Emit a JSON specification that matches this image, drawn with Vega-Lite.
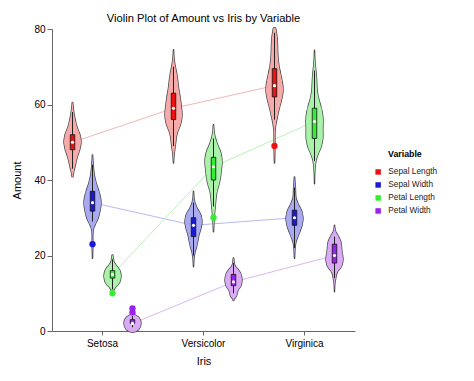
{
"$schema": "https://vega.github.io/schema/vega-lite/v6.json",
"autosize": "none",
"width": 303,
"height": 302,
"padding": {"left": 52, "top": 29, "right": 119, "bottom": 50},
"background": "white",
"title": {"text": "Violin Plot of Amount vs Iris by Variable", "fontSize": 11.2, "fontWeight": "normal", "offset": 0, "anchor": "middle", "color": "#000"},
"config": {"view": {"stroke": null}, "font": "Liberation Sans", "axis": {"grid": false}},
"datasets": {
"iris": [
{"species":"Setosa","Sepal Length":51,"Sepal Width":35,"Petal Length":14,"Petal Width":2},
{"species":"Setosa","Sepal Length":49,"Sepal Width":30,"Petal Length":14,"Petal Width":2},
{"species":"Setosa","Sepal Length":47,"Sepal Width":32,"Petal Length":13,"Petal Width":2},
{"species":"Setosa","Sepal Length":46,"Sepal Width":31,"Petal Length":15,"Petal Width":2},
{"species":"Setosa","Sepal Length":50,"Sepal Width":36,"Petal Length":14,"Petal Width":2},
{"species":"Setosa","Sepal Length":54,"Sepal Width":39,"Petal Length":17,"Petal Width":4},
{"species":"Setosa","Sepal Length":46,"Sepal Width":34,"Petal Length":14,"Petal Width":3},
{"species":"Setosa","Sepal Length":50,"Sepal Width":34,"Petal Length":15,"Petal Width":2},
{"species":"Setosa","Sepal Length":44,"Sepal Width":29,"Petal Length":14,"Petal Width":2},
{"species":"Setosa","Sepal Length":49,"Sepal Width":31,"Petal Length":15,"Petal Width":1},
{"species":"Setosa","Sepal Length":54,"Sepal Width":37,"Petal Length":15,"Petal Width":2},
{"species":"Setosa","Sepal Length":48,"Sepal Width":34,"Petal Length":16,"Petal Width":2},
{"species":"Setosa","Sepal Length":48,"Sepal Width":30,"Petal Length":14,"Petal Width":1},
{"species":"Setosa","Sepal Length":43,"Sepal Width":30,"Petal Length":11,"Petal Width":1},
{"species":"Setosa","Sepal Length":58,"Sepal Width":40,"Petal Length":12,"Petal Width":2},
{"species":"Setosa","Sepal Length":57,"Sepal Width":44,"Petal Length":15,"Petal Width":4},
{"species":"Setosa","Sepal Length":54,"Sepal Width":39,"Petal Length":13,"Petal Width":4},
{"species":"Setosa","Sepal Length":51,"Sepal Width":35,"Petal Length":14,"Petal Width":3},
{"species":"Setosa","Sepal Length":57,"Sepal Width":38,"Petal Length":17,"Petal Width":3},
{"species":"Setosa","Sepal Length":51,"Sepal Width":38,"Petal Length":15,"Petal Width":3},
{"species":"Setosa","Sepal Length":54,"Sepal Width":34,"Petal Length":17,"Petal Width":2},
{"species":"Setosa","Sepal Length":51,"Sepal Width":37,"Petal Length":15,"Petal Width":4},
{"species":"Setosa","Sepal Length":46,"Sepal Width":36,"Petal Length":10,"Petal Width":2},
{"species":"Setosa","Sepal Length":51,"Sepal Width":33,"Petal Length":17,"Petal Width":5},
{"species":"Setosa","Sepal Length":48,"Sepal Width":34,"Petal Length":19,"Petal Width":2},
{"species":"Setosa","Sepal Length":50,"Sepal Width":30,"Petal Length":16,"Petal Width":2},
{"species":"Setosa","Sepal Length":50,"Sepal Width":34,"Petal Length":16,"Petal Width":4},
{"species":"Setosa","Sepal Length":52,"Sepal Width":35,"Petal Length":15,"Petal Width":2},
{"species":"Setosa","Sepal Length":52,"Sepal Width":34,"Petal Length":14,"Petal Width":2},
{"species":"Setosa","Sepal Length":47,"Sepal Width":32,"Petal Length":16,"Petal Width":2},
{"species":"Setosa","Sepal Length":48,"Sepal Width":31,"Petal Length":16,"Petal Width":2},
{"species":"Setosa","Sepal Length":54,"Sepal Width":34,"Petal Length":15,"Petal Width":4},
{"species":"Setosa","Sepal Length":52,"Sepal Width":41,"Petal Length":15,"Petal Width":1},
{"species":"Setosa","Sepal Length":55,"Sepal Width":42,"Petal Length":14,"Petal Width":2},
{"species":"Setosa","Sepal Length":49,"Sepal Width":31,"Petal Length":15,"Petal Width":2},
{"species":"Setosa","Sepal Length":50,"Sepal Width":32,"Petal Length":12,"Petal Width":2},
{"species":"Setosa","Sepal Length":55,"Sepal Width":35,"Petal Length":13,"Petal Width":2},
{"species":"Setosa","Sepal Length":49,"Sepal Width":36,"Petal Length":14,"Petal Width":1},
{"species":"Setosa","Sepal Length":44,"Sepal Width":30,"Petal Length":13,"Petal Width":2},
{"species":"Setosa","Sepal Length":51,"Sepal Width":34,"Petal Length":15,"Petal Width":2},
{"species":"Setosa","Sepal Length":50,"Sepal Width":35,"Petal Length":13,"Petal Width":3},
{"species":"Setosa","Sepal Length":45,"Sepal Width":23,"Petal Length":13,"Petal Width":3},
{"species":"Setosa","Sepal Length":44,"Sepal Width":32,"Petal Length":13,"Petal Width":2},
{"species":"Setosa","Sepal Length":50,"Sepal Width":35,"Petal Length":16,"Petal Width":6},
{"species":"Setosa","Sepal Length":51,"Sepal Width":38,"Petal Length":19,"Petal Width":4},
{"species":"Setosa","Sepal Length":48,"Sepal Width":30,"Petal Length":14,"Petal Width":3},
{"species":"Setosa","Sepal Length":51,"Sepal Width":38,"Petal Length":16,"Petal Width":2},
{"species":"Setosa","Sepal Length":46,"Sepal Width":32,"Petal Length":14,"Petal Width":2},
{"species":"Setosa","Sepal Length":53,"Sepal Width":37,"Petal Length":15,"Petal Width":2},
{"species":"Setosa","Sepal Length":50,"Sepal Width":33,"Petal Length":14,"Petal Width":2},
{"species":"Versicolor","Sepal Length":70,"Sepal Width":32,"Petal Length":47,"Petal Width":14},
{"species":"Versicolor","Sepal Length":64,"Sepal Width":32,"Petal Length":45,"Petal Width":15},
{"species":"Versicolor","Sepal Length":69,"Sepal Width":31,"Petal Length":49,"Petal Width":15},
{"species":"Versicolor","Sepal Length":55,"Sepal Width":23,"Petal Length":40,"Petal Width":13},
{"species":"Versicolor","Sepal Length":65,"Sepal Width":28,"Petal Length":46,"Petal Width":15},
{"species":"Versicolor","Sepal Length":57,"Sepal Width":28,"Petal Length":45,"Petal Width":13},
{"species":"Versicolor","Sepal Length":63,"Sepal Width":33,"Petal Length":47,"Petal Width":16},
{"species":"Versicolor","Sepal Length":49,"Sepal Width":24,"Petal Length":33,"Petal Width":10},
{"species":"Versicolor","Sepal Length":66,"Sepal Width":29,"Petal Length":46,"Petal Width":13},
{"species":"Versicolor","Sepal Length":52,"Sepal Width":27,"Petal Length":39,"Petal Width":14},
{"species":"Versicolor","Sepal Length":50,"Sepal Width":20,"Petal Length":35,"Petal Width":10},
{"species":"Versicolor","Sepal Length":59,"Sepal Width":30,"Petal Length":42,"Petal Width":15},
{"species":"Versicolor","Sepal Length":60,"Sepal Width":22,"Petal Length":40,"Petal Width":10},
{"species":"Versicolor","Sepal Length":61,"Sepal Width":29,"Petal Length":47,"Petal Width":14},
{"species":"Versicolor","Sepal Length":56,"Sepal Width":29,"Petal Length":36,"Petal Width":13},
{"species":"Versicolor","Sepal Length":67,"Sepal Width":31,"Petal Length":44,"Petal Width":14},
{"species":"Versicolor","Sepal Length":56,"Sepal Width":30,"Petal Length":45,"Petal Width":15},
{"species":"Versicolor","Sepal Length":58,"Sepal Width":27,"Petal Length":41,"Petal Width":10},
{"species":"Versicolor","Sepal Length":62,"Sepal Width":22,"Petal Length":45,"Petal Width":15},
{"species":"Versicolor","Sepal Length":56,"Sepal Width":25,"Petal Length":39,"Petal Width":11},
{"species":"Versicolor","Sepal Length":59,"Sepal Width":32,"Petal Length":48,"Petal Width":18},
{"species":"Versicolor","Sepal Length":61,"Sepal Width":28,"Petal Length":40,"Petal Width":13},
{"species":"Versicolor","Sepal Length":63,"Sepal Width":25,"Petal Length":49,"Petal Width":15},
{"species":"Versicolor","Sepal Length":61,"Sepal Width":28,"Petal Length":47,"Petal Width":12},
{"species":"Versicolor","Sepal Length":64,"Sepal Width":29,"Petal Length":43,"Petal Width":13},
{"species":"Versicolor","Sepal Length":66,"Sepal Width":30,"Petal Length":44,"Petal Width":14},
{"species":"Versicolor","Sepal Length":68,"Sepal Width":28,"Petal Length":48,"Petal Width":14},
{"species":"Versicolor","Sepal Length":67,"Sepal Width":30,"Petal Length":50,"Petal Width":17},
{"species":"Versicolor","Sepal Length":60,"Sepal Width":29,"Petal Length":45,"Petal Width":15},
{"species":"Versicolor","Sepal Length":57,"Sepal Width":26,"Petal Length":35,"Petal Width":10},
{"species":"Versicolor","Sepal Length":55,"Sepal Width":24,"Petal Length":38,"Petal Width":11},
{"species":"Versicolor","Sepal Length":55,"Sepal Width":24,"Petal Length":37,"Petal Width":10},
{"species":"Versicolor","Sepal Length":58,"Sepal Width":27,"Petal Length":39,"Petal Width":12},
{"species":"Versicolor","Sepal Length":60,"Sepal Width":27,"Petal Length":51,"Petal Width":16},
{"species":"Versicolor","Sepal Length":54,"Sepal Width":30,"Petal Length":45,"Petal Width":15},
{"species":"Versicolor","Sepal Length":60,"Sepal Width":34,"Petal Length":45,"Petal Width":16},
{"species":"Versicolor","Sepal Length":67,"Sepal Width":31,"Petal Length":47,"Petal Width":15},
{"species":"Versicolor","Sepal Length":63,"Sepal Width":23,"Petal Length":44,"Petal Width":13},
{"species":"Versicolor","Sepal Length":56,"Sepal Width":30,"Petal Length":41,"Petal Width":13},
{"species":"Versicolor","Sepal Length":55,"Sepal Width":25,"Petal Length":40,"Petal Width":13},
{"species":"Versicolor","Sepal Length":55,"Sepal Width":26,"Petal Length":44,"Petal Width":12},
{"species":"Versicolor","Sepal Length":61,"Sepal Width":30,"Petal Length":46,"Petal Width":14},
{"species":"Versicolor","Sepal Length":58,"Sepal Width":26,"Petal Length":40,"Petal Width":12},
{"species":"Versicolor","Sepal Length":50,"Sepal Width":23,"Petal Length":33,"Petal Width":10},
{"species":"Versicolor","Sepal Length":56,"Sepal Width":27,"Petal Length":42,"Petal Width":13},
{"species":"Versicolor","Sepal Length":57,"Sepal Width":30,"Petal Length":42,"Petal Width":12},
{"species":"Versicolor","Sepal Length":57,"Sepal Width":29,"Petal Length":42,"Petal Width":13},
{"species":"Versicolor","Sepal Length":62,"Sepal Width":29,"Petal Length":43,"Petal Width":13},
{"species":"Versicolor","Sepal Length":51,"Sepal Width":25,"Petal Length":30,"Petal Width":11},
{"species":"Versicolor","Sepal Length":57,"Sepal Width":28,"Petal Length":41,"Petal Width":13},
{"species":"Virginica","Sepal Length":63,"Sepal Width":33,"Petal Length":60,"Petal Width":25},
{"species":"Virginica","Sepal Length":58,"Sepal Width":27,"Petal Length":51,"Petal Width":19},
{"species":"Virginica","Sepal Length":71,"Sepal Width":30,"Petal Length":59,"Petal Width":21},
{"species":"Virginica","Sepal Length":63,"Sepal Width":29,"Petal Length":56,"Petal Width":18},
{"species":"Virginica","Sepal Length":65,"Sepal Width":30,"Petal Length":58,"Petal Width":22},
{"species":"Virginica","Sepal Length":76,"Sepal Width":30,"Petal Length":66,"Petal Width":21},
{"species":"Virginica","Sepal Length":49,"Sepal Width":25,"Petal Length":45,"Petal Width":17},
{"species":"Virginica","Sepal Length":73,"Sepal Width":29,"Petal Length":63,"Petal Width":18},
{"species":"Virginica","Sepal Length":67,"Sepal Width":25,"Petal Length":58,"Petal Width":18},
{"species":"Virginica","Sepal Length":72,"Sepal Width":36,"Petal Length":61,"Petal Width":25},
{"species":"Virginica","Sepal Length":65,"Sepal Width":32,"Petal Length":51,"Petal Width":20},
{"species":"Virginica","Sepal Length":64,"Sepal Width":27,"Petal Length":53,"Petal Width":19},
{"species":"Virginica","Sepal Length":68,"Sepal Width":30,"Petal Length":55,"Petal Width":21},
{"species":"Virginica","Sepal Length":57,"Sepal Width":25,"Petal Length":50,"Petal Width":20},
{"species":"Virginica","Sepal Length":58,"Sepal Width":28,"Petal Length":51,"Petal Width":24},
{"species":"Virginica","Sepal Length":64,"Sepal Width":32,"Petal Length":53,"Petal Width":23},
{"species":"Virginica","Sepal Length":65,"Sepal Width":30,"Petal Length":55,"Petal Width":18},
{"species":"Virginica","Sepal Length":77,"Sepal Width":38,"Petal Length":67,"Petal Width":22},
{"species":"Virginica","Sepal Length":77,"Sepal Width":26,"Petal Length":69,"Petal Width":23},
{"species":"Virginica","Sepal Length":60,"Sepal Width":22,"Petal Length":50,"Petal Width":15},
{"species":"Virginica","Sepal Length":69,"Sepal Width":32,"Petal Length":57,"Petal Width":23},
{"species":"Virginica","Sepal Length":56,"Sepal Width":28,"Petal Length":49,"Petal Width":20},
{"species":"Virginica","Sepal Length":77,"Sepal Width":28,"Petal Length":67,"Petal Width":20},
{"species":"Virginica","Sepal Length":63,"Sepal Width":27,"Petal Length":49,"Petal Width":18},
{"species":"Virginica","Sepal Length":67,"Sepal Width":33,"Petal Length":57,"Petal Width":21},
{"species":"Virginica","Sepal Length":72,"Sepal Width":32,"Petal Length":60,"Petal Width":18},
{"species":"Virginica","Sepal Length":62,"Sepal Width":28,"Petal Length":48,"Petal Width":18},
{"species":"Virginica","Sepal Length":61,"Sepal Width":30,"Petal Length":49,"Petal Width":18},
{"species":"Virginica","Sepal Length":64,"Sepal Width":28,"Petal Length":56,"Petal Width":21},
{"species":"Virginica","Sepal Length":72,"Sepal Width":30,"Petal Length":58,"Petal Width":16},
{"species":"Virginica","Sepal Length":74,"Sepal Width":28,"Petal Length":61,"Petal Width":19},
{"species":"Virginica","Sepal Length":79,"Sepal Width":38,"Petal Length":64,"Petal Width":20},
{"species":"Virginica","Sepal Length":64,"Sepal Width":28,"Petal Length":56,"Petal Width":22},
{"species":"Virginica","Sepal Length":63,"Sepal Width":28,"Petal Length":51,"Petal Width":15},
{"species":"Virginica","Sepal Length":61,"Sepal Width":26,"Petal Length":56,"Petal Width":14},
{"species":"Virginica","Sepal Length":77,"Sepal Width":30,"Petal Length":61,"Petal Width":23},
{"species":"Virginica","Sepal Length":63,"Sepal Width":34,"Petal Length":56,"Petal Width":24},
{"species":"Virginica","Sepal Length":64,"Sepal Width":31,"Petal Length":55,"Petal Width":18},
{"species":"Virginica","Sepal Length":60,"Sepal Width":30,"Petal Length":48,"Petal Width":18},
{"species":"Virginica","Sepal Length":69,"Sepal Width":31,"Petal Length":54,"Petal Width":21},
{"species":"Virginica","Sepal Length":67,"Sepal Width":31,"Petal Length":56,"Petal Width":24},
{"species":"Virginica","Sepal Length":69,"Sepal Width":31,"Petal Length":51,"Petal Width":23},
{"species":"Virginica","Sepal Length":58,"Sepal Width":27,"Petal Length":51,"Petal Width":19},
{"species":"Virginica","Sepal Length":68,"Sepal Width":32,"Petal Length":59,"Petal Width":23},
{"species":"Virginica","Sepal Length":67,"Sepal Width":33,"Petal Length":57,"Petal Width":25},
{"species":"Virginica","Sepal Length":67,"Sepal Width":30,"Petal Length":52,"Petal Width":23},
{"species":"Virginica","Sepal Length":63,"Sepal Width":25,"Petal Length":50,"Petal Width":19},
{"species":"Virginica","Sepal Length":65,"Sepal Width":30,"Petal Length":52,"Petal Width":20},
{"species":"Virginica","Sepal Length":62,"Sepal Width":34,"Petal Length":54,"Petal Width":23},
{"species":"Virginica","Sepal Length":59,"Sepal Width":30,"Petal Length":51,"Petal Width":18}
],
"box": [
{"species":"Setosa","variable":"Sepal Length","lo":43,"q1":48,"median":50,"q3":52,"hi":58},
{"species":"Setosa","variable":"Sepal Width","lo":29,"q1":31.75,"median":34,"q3":37,"hi":44},
{"species":"Setosa","variable":"Petal Length","lo":11,"q1":14,"median":15,"q3":16,"hi":19},
{"species":"Setosa","variable":"Petal Width","lo":1,"q1":2,"median":2,"q3":3,"hi":4},
{"species":"Versicolor","variable":"Sepal Length","lo":49,"q1":56,"median":59,"q3":63,"hi":70},
{"species":"Versicolor","variable":"Sepal Width","lo":20,"q1":25,"median":28,"q3":30,"hi":34},
{"species":"Versicolor","variable":"Petal Length","lo":33,"q1":40,"median":43.5,"q3":46,"hi":51},
{"species":"Versicolor","variable":"Petal Width","lo":10,"q1":12,"median":13,"q3":15,"hi":18},
{"species":"Virginica","variable":"Sepal Length","lo":56,"q1":62,"median":65,"q3":69.5,"hi":79},
{"species":"Virginica","variable":"Sepal Width","lo":22,"q1":28,"median":30,"q3":32,"hi":38},
{"species":"Virginica","variable":"Petal Length","lo":45,"q1":51,"median":55.5,"q3":59,"hi":69},
{"species":"Virginica","variable":"Petal Width","lo":14,"q1":18,"median":20,"q3":23,"hi":25}
],
"out": [
{"species":"Setosa","variable":"Sepal Width","value":23},
{"species":"Setosa","variable":"Petal Length","value":10},
{"species":"Setosa","variable":"Petal Width","value":5},
{"species":"Setosa","variable":"Petal Width","value":6},
{"species":"Versicolor","variable":"Petal Length","value":30},
{"species":"Virginica","variable":"Sepal Length","value":49}
]
},
"encoding": {
"x": {"field": "species", "type": "nominal", "title": "Iris", "scale": {"domain": ["Setosa","Versicolor","Virginica"], "paddingInner": 0, "paddingOuter": 0}, "axis": {"labelAngle": 0, "tickSize": 4, "domainColor": "#666", "tickColor": "#666", "labelFontSize": 10, "labelColor": "#000", "labelPadding": 3, "titleFontSize": 11, "titleFontWeight": "normal", "titleColor": "#000", "titlePadding": 7}},
"xOffset": {"field": "variable", "type": "nominal", "scale": {"domain": ["Sepal Length","Sepal Width","Petal Length","Petal Width"], "paddingInner": 0, "paddingOuter": 0.525}},
"y": {"field": "value", "type": "quantitative", "title": "Amount", "scale": {"domain": [0, 80], "nice": false}, "axis": {"values": [0,20,40,60,80], "tickSize": 5, "domainColor": "#666", "tickColor": "#666", "labelFontSize": 10, "labelColor": "#000", "labelPadding": 2, "titleFontSize": 11, "titleFontWeight": "normal", "titleColor": "#000", "titlePadding": 11}}
},
"layer": [
{"data": {"name": "box"}, "mark": {"type": "line", "strokeWidth": 1}, "encoding": {"y": {"field": "median", "type": "quantitative", "title": "Amount"}, "color": {"field": "variable", "type": "nominal", "scale": {"domain": ["Sepal Length","Sepal Width","Petal Length","Petal Width"], "range": ["#f5b5b5","#b8b8f2","#b8f2b8","#dbb8f2"]}, "legend": null}}},
{"data": {"name": "iris"}, "transform": [{"fold": ["Sepal Length","Sepal Width","Petal Length","Petal Width"], "as": ["variable","value"]}, {"filter": "datum.species === 'Setosa' && datum.variable === 'Sepal Length'"}, {"density": "value", "groupby": ["species","variable"], "bandwidth": 1.8, "extent": [41, 60.5], "steps": 100}],
 "encoding": {"order": {"field": "value", "type": "quantitative"}},
 "layer": [
  {"mark": {"type": "trail", "color": "#404040"}, "encoding": {"size": {"field": "density", "type": "quantitative", "scale": {"zero": true, "range": [1.4, 18.4]}, "legend": null}}},
  {"mark": {"type": "trail"}, "encoding": {"size": {"field": "density", "type": "quantitative", "scale": {"zero": true, "range": [0, 17]}, "legend": null}, "color": {"field": "variable", "type": "nominal", "scale": {"domain": ["Sepal Length","Sepal Width","Petal Length","Petal Width"], "range": ["#f7aaaa","#aaaaf2","#aaf2aa","#dbaaf5"]}, "legend": null}}}
 ], "resolve": {"scale": {"size": "independent"}}},
{"data": {"name": "iris"}, "transform": [{"fold": ["Sepal Length","Sepal Width","Petal Length","Petal Width"], "as": ["variable","value"]}, {"filter": "datum.species === 'Setosa' && datum.variable === 'Sepal Width'"}, {"density": "value", "groupby": ["species","variable"], "bandwidth": 1.8, "extent": [19.3, 46.6], "steps": 100}],
 "encoding": {"order": {"field": "value", "type": "quantitative"}},
 "layer": [
  {"mark": {"type": "trail", "color": "#404040"}, "encoding": {"size": {"field": "density", "type": "quantitative", "scale": {"zero": true, "range": [1.4, 18.4]}, "legend": null}}},
  {"mark": {"type": "trail"}, "encoding": {"size": {"field": "density", "type": "quantitative", "scale": {"zero": true, "range": [0, 17]}, "legend": null}, "color": {"field": "variable", "type": "nominal", "scale": {"domain": ["Sepal Length","Sepal Width","Petal Length","Petal Width"], "range": ["#f7aaaa","#aaaaf2","#aaf2aa","#dbaaf5"]}, "legend": null}}}
 ], "resolve": {"scale": {"size": "independent"}}},
{"data": {"name": "iris"}, "transform": [{"fold": ["Sepal Length","Sepal Width","Petal Length","Petal Width"], "as": ["variable","value"]}, {"filter": "datum.species === 'Setosa' && datum.variable === 'Petal Length'"}, {"density": "value", "groupby": ["species","variable"], "bandwidth": 1.2, "extent": [10, 20], "steps": 100}],
 "encoding": {"order": {"field": "value", "type": "quantitative"}},
 "layer": [
  {"mark": {"type": "trail", "color": "#404040"}, "encoding": {"size": {"field": "density", "type": "quantitative", "scale": {"zero": true, "range": [1.4, 18.4]}, "legend": null}}},
  {"mark": {"type": "trail"}, "encoding": {"size": {"field": "density", "type": "quantitative", "scale": {"zero": true, "range": [0, 17]}, "legend": null}, "color": {"field": "variable", "type": "nominal", "scale": {"domain": ["Sepal Length","Sepal Width","Petal Length","Petal Width"], "range": ["#f7aaaa","#aaaaf2","#aaf2aa","#dbaaf5"]}, "legend": null}}}
 ], "resolve": {"scale": {"size": "independent"}}},
{"data": {"name": "iris"}, "transform": [{"fold": ["Sepal Length","Sepal Width","Petal Length","Petal Width"], "as": ["variable","value"]}, {"filter": "datum.species === 'Setosa' && datum.variable === 'Petal Width'"}, {"density": "value", "groupby": ["species","variable"], "bandwidth": 0.5, "extent": [1.0, 4.2], "steps": 100}],
 "encoding": {"order": {"field": "value", "type": "quantitative"}},
 "layer": [
  {"mark": {"type": "trail", "color": "#404040"}, "encoding": {"size": {"field": "density", "type": "quantitative", "scale": {"zero": true, "range": [1.4, 18.4]}, "legend": null}}},
  {"mark": {"type": "trail"}, "encoding": {"size": {"field": "density", "type": "quantitative", "scale": {"zero": true, "range": [0, 17]}, "legend": null}, "color": {"field": "variable", "type": "nominal", "scale": {"domain": ["Sepal Length","Sepal Width","Petal Length","Petal Width"], "range": ["#f7aaaa","#aaaaf2","#aaf2aa","#dbaaf5"]}, "legend": null}}}
 ], "resolve": {"scale": {"size": "independent"}}},
{"data": {"name": "iris"}, "transform": [{"fold": ["Sepal Length","Sepal Width","Petal Length","Petal Width"], "as": ["variable","value"]}, {"filter": "datum.species === 'Versicolor' && datum.variable === 'Sepal Length'"}, {"density": "value", "groupby": ["species","variable"], "bandwidth": 2.2, "extent": [44.5, 74.5], "steps": 100}],
 "encoding": {"order": {"field": "value", "type": "quantitative"}},
 "layer": [
  {"mark": {"type": "trail", "color": "#404040"}, "encoding": {"size": {"field": "density", "type": "quantitative", "scale": {"zero": true, "range": [1.4, 18.4]}, "legend": null}}},
  {"mark": {"type": "trail"}, "encoding": {"size": {"field": "density", "type": "quantitative", "scale": {"zero": true, "range": [0, 17]}, "legend": null}, "color": {"field": "variable", "type": "nominal", "scale": {"domain": ["Sepal Length","Sepal Width","Petal Length","Petal Width"], "range": ["#f7aaaa","#aaaaf2","#aaf2aa","#dbaaf5"]}, "legend": null}}}
 ], "resolve": {"scale": {"size": "independent"}}},
{"data": {"name": "iris"}, "transform": [{"fold": ["Sepal Length","Sepal Width","Petal Length","Petal Width"], "as": ["variable","value"]}, {"filter": "datum.species === 'Versicolor' && datum.variable === 'Sepal Width'"}, {"density": "value", "groupby": ["species","variable"], "bandwidth": 1.5, "extent": [17, 37], "steps": 100}],
 "encoding": {"order": {"field": "value", "type": "quantitative"}},
 "layer": [
  {"mark": {"type": "trail", "color": "#404040"}, "encoding": {"size": {"field": "density", "type": "quantitative", "scale": {"zero": true, "range": [1.4, 18.4]}, "legend": null}}},
  {"mark": {"type": "trail"}, "encoding": {"size": {"field": "density", "type": "quantitative", "scale": {"zero": true, "range": [0, 17]}, "legend": null}, "color": {"field": "variable", "type": "nominal", "scale": {"domain": ["Sepal Length","Sepal Width","Petal Length","Petal Width"], "range": ["#f7aaaa","#aaaaf2","#aaf2aa","#dbaaf5"]}, "legend": null}}}
 ], "resolve": {"scale": {"size": "independent"}}},
{"data": {"name": "iris"}, "transform": [{"fold": ["Sepal Length","Sepal Width","Petal Length","Petal Width"], "as": ["variable","value"]}, {"filter": "datum.species === 'Versicolor' && datum.variable === 'Petal Length'"}, {"density": "value", "groupby": ["species","variable"], "bandwidth": 2.0, "extent": [26.3, 54.6], "steps": 100}],
 "encoding": {"order": {"field": "value", "type": "quantitative"}},
 "layer": [
  {"mark": {"type": "trail", "color": "#404040"}, "encoding": {"size": {"field": "density", "type": "quantitative", "scale": {"zero": true, "range": [1.4, 18.4]}, "legend": null}}},
  {"mark": {"type": "trail"}, "encoding": {"size": {"field": "density", "type": "quantitative", "scale": {"zero": true, "range": [0, 17]}, "legend": null}, "color": {"field": "variable", "type": "nominal", "scale": {"domain": ["Sepal Length","Sepal Width","Petal Length","Petal Width"], "range": ["#f7aaaa","#aaaaf2","#aaf2aa","#dbaaf5"]}, "legend": null}}}
 ], "resolve": {"scale": {"size": "independent"}}},
{"data": {"name": "iris"}, "transform": [{"fold": ["Sepal Length","Sepal Width","Petal Length","Petal Width"], "as": ["variable","value"]}, {"filter": "datum.species === 'Versicolor' && datum.variable === 'Petal Width'"}, {"density": "value", "groupby": ["species","variable"], "bandwidth": 1.0, "extent": [8.2, 19.3], "steps": 100}],
 "encoding": {"order": {"field": "value", "type": "quantitative"}},
 "layer": [
  {"mark": {"type": "trail", "color": "#404040"}, "encoding": {"size": {"field": "density", "type": "quantitative", "scale": {"zero": true, "range": [1.4, 18.4]}, "legend": null}}},
  {"mark": {"type": "trail"}, "encoding": {"size": {"field": "density", "type": "quantitative", "scale": {"zero": true, "range": [0, 17]}, "legend": null}, "color": {"field": "variable", "type": "nominal", "scale": {"domain": ["Sepal Length","Sepal Width","Petal Length","Petal Width"], "range": ["#f7aaaa","#aaaaf2","#aaf2aa","#dbaaf5"]}, "legend": null}}}
 ], "resolve": {"scale": {"size": "independent"}}},
{"data": {"name": "iris"}, "transform": [{"fold": ["Sepal Length","Sepal Width","Petal Length","Petal Width"], "as": ["variable","value"]}, {"filter": "datum.species === 'Virginica' && datum.variable === 'Sepal Length'"}, {"density": "value", "groupby": ["species","variable"], "bandwidth": 2.4, "extent": [44.5, 80], "steps": 100}],
 "encoding": {"order": {"field": "value", "type": "quantitative"}},
 "layer": [
  {"mark": {"type": "trail", "color": "#404040"}, "encoding": {"size": {"field": "density", "type": "quantitative", "scale": {"zero": true, "range": [1.4, 18.4]}, "legend": null}}},
  {"mark": {"type": "trail"}, "encoding": {"size": {"field": "density", "type": "quantitative", "scale": {"zero": true, "range": [0, 17]}, "legend": null}, "color": {"field": "variable", "type": "nominal", "scale": {"domain": ["Sepal Length","Sepal Width","Petal Length","Petal Width"], "range": ["#f7aaaa","#aaaaf2","#aaf2aa","#dbaaf5"]}, "legend": null}}}
 ], "resolve": {"scale": {"size": "independent"}}},
{"data": {"name": "iris"}, "transform": [{"fold": ["Sepal Length","Sepal Width","Petal Length","Petal Width"], "as": ["variable","value"]}, {"filter": "datum.species === 'Virginica' && datum.variable === 'Sepal Width'"}, {"density": "value", "groupby": ["species","variable"], "bandwidth": 1.5, "extent": [19.3, 40.8], "steps": 100}],
 "encoding": {"order": {"field": "value", "type": "quantitative"}},
 "layer": [
  {"mark": {"type": "trail", "color": "#404040"}, "encoding": {"size": {"field": "density", "type": "quantitative", "scale": {"zero": true, "range": [1.4, 18.4]}, "legend": null}}},
  {"mark": {"type": "trail"}, "encoding": {"size": {"field": "density", "type": "quantitative", "scale": {"zero": true, "range": [0, 17]}, "legend": null}, "color": {"field": "variable", "type": "nominal", "scale": {"domain": ["Sepal Length","Sepal Width","Petal Length","Petal Width"], "range": ["#f7aaaa","#aaaaf2","#aaf2aa","#dbaaf5"]}, "legend": null}}}
 ], "resolve": {"scale": {"size": "independent"}}},
{"data": {"name": "iris"}, "transform": [{"fold": ["Sepal Length","Sepal Width","Petal Length","Petal Width"], "as": ["variable","value"]}, {"filter": "datum.species === 'Virginica' && datum.variable === 'Petal Length'"}, {"density": "value", "groupby": ["species","variable"], "bandwidth": 2.3, "extent": [39, 74.4], "steps": 100}],
 "encoding": {"order": {"field": "value", "type": "quantitative"}},
 "layer": [
  {"mark": {"type": "trail", "color": "#404040"}, "encoding": {"size": {"field": "density", "type": "quantitative", "scale": {"zero": true, "range": [1.4, 18.4]}, "legend": null}}},
  {"mark": {"type": "trail"}, "encoding": {"size": {"field": "density", "type": "quantitative", "scale": {"zero": true, "range": [0, 17]}, "legend": null}, "color": {"field": "variable", "type": "nominal", "scale": {"domain": ["Sepal Length","Sepal Width","Petal Length","Petal Width"], "range": ["#f7aaaa","#aaaaf2","#aaf2aa","#dbaaf5"]}, "legend": null}}}
 ], "resolve": {"scale": {"size": "independent"}}},
{"data": {"name": "iris"}, "transform": [{"fold": ["Sepal Length","Sepal Width","Petal Length","Petal Width"], "as": ["variable","value"]}, {"filter": "datum.species === 'Virginica' && datum.variable === 'Petal Width'"}, {"density": "value", "groupby": ["species","variable"], "bandwidth": 1.3, "extent": [10.4, 28], "steps": 100}],
 "encoding": {"order": {"field": "value", "type": "quantitative"}},
 "layer": [
  {"mark": {"type": "trail", "color": "#404040"}, "encoding": {"size": {"field": "density", "type": "quantitative", "scale": {"zero": true, "range": [1.4, 18.4]}, "legend": null}}},
  {"mark": {"type": "trail"}, "encoding": {"size": {"field": "density", "type": "quantitative", "scale": {"zero": true, "range": [0, 17]}, "legend": null}, "color": {"field": "variable", "type": "nominal", "scale": {"domain": ["Sepal Length","Sepal Width","Petal Length","Petal Width"], "range": ["#f7aaaa","#aaaaf2","#aaf2aa","#dbaaf5"]}, "legend": null}}}
 ], "resolve": {"scale": {"size": "independent"}}},
{"data": {"name": "box"}, "mark": {"type": "rule", "color": "#222", "strokeWidth": 1}, "encoding": {"y": {"field": "lo", "type": "quantitative", "title": "Amount"}, "y2": {"field": "hi"}}},
{"data": {"name": "box"}, "mark": {"type": "bar", "width": 4.5, "stroke": "#111", "strokeWidth": 0.8}, "encoding": {"y": {"field": "q1", "type": "quantitative", "title": "Amount"}, "y2": {"field": "q3"}, "color": {"field": "variable", "type": "nominal", "title": "Variable", "scale": {"domain": ["Sepal Length","Sepal Width","Petal Length","Petal Width"], "range": ["#ee1111","#1a1ad6","#33ee33","#9922ee"]}, "legend": {"orient": "none", "legendX": 336, "legendY": 121, "symbolType": "square", "symbolSize": 30, "symbolStrokeWidth": 0, "symbolOffset": -14, "labelFontSize": 8.3, "labelColor": "#222", "labelOffset": 6, "titleFontSize": 8.8, "titleFontWeight": "bold", "titleColor": "#000", "titlePadding": 9, "rowPadding": 4}}}},
{"data": {"name": "box"}, "mark": {"type": "point", "filled": true, "color": "white", "size": 10, "opacity": 1}, "encoding": {"y": {"field": "median", "type": "quantitative", "title": "Amount"}}},
{"data": {"name": "out"}, "mark": {"type": "point", "filled": true, "size": 40, "opacity": 1}, "encoding": {"y": {"field": "value", "type": "quantitative", "title": "Amount"}, "color": {"field": "variable", "type": "nominal", "scale": {"domain": ["Sepal Length","Sepal Width","Petal Length","Petal Width"], "range": ["#ee1111","#1a1ad6","#33ee33","#9922ee"]}, "legend": null}}}
],
"resolve": {"scale": {"size": "independent", "color": "independent"}}
}
